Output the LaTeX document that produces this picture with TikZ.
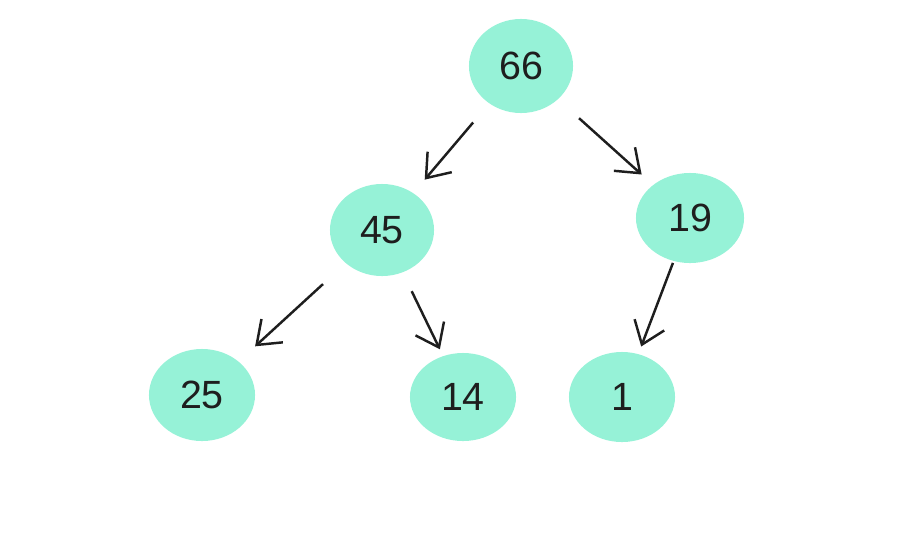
\documentclass[tikz,border=0pt]{standalone}
\usepackage{fontspec}
\setmainfont{Liberation Sans}
\usetikzlibrary{shapes.geometric,arrows.meta}
\definecolor{fillc}{HTML}{96F2D7}
\definecolor{ink}{HTML}{1E1E1E}
\begin{document}
\begin{tikzpicture}[x=0.01cm,y=-0.01cm,
  bub/.style={ellipse,fill=fillc,inner sep=0pt,text=ink,font=\fontsize{11.2}{13}\selectfont},
  arr/.style={draw=ink,line width=0.7pt,-{Straight Barb[length=6pt,width=9pt]}}]
\useasboundingbox (0,0) rectangle (921,545);
\node[bub,minimum width=1.04cm,minimum height=0.94cm] (n66) at (521,66) {66};
\node[bub,minimum width=1.04cm,minimum height=0.92cm] (n45) at (382,230) {45};
\node[bub,minimum width=1.08cm,minimum height=0.90cm] (n19) at (690,218) {19};
\node[bub,minimum width=1.06cm,minimum height=0.92cm] (n25) at (202,395) {25};
\node[bub,minimum width=1.06cm,minimum height=0.88cm] (n14) at (463,397) {14};
\node[bub,minimum width=1.06cm,minimum height=0.90cm] (n1) at (622,397) {1};
\draw[arr,shorten <=0.74cm,shorten >=0.66cm] (n66.center) -- (n45.center);
\draw[arr,shorten <=0.78cm,shorten >=0.65cm] (n66.center) -- (n19.center);
\draw[arr,shorten <=0.80cm,shorten >=0.72cm] (n45.center) -- (n25.center);
\draw[arr,shorten <=0.68cm,shorten >=0.53cm] (n45.center) -- (n14.center);
\draw[arr,shorten <=0.48cm,shorten >=0.54cm] (n19.center) -- (n1.center);
\end{tikzpicture}
\end{document}
